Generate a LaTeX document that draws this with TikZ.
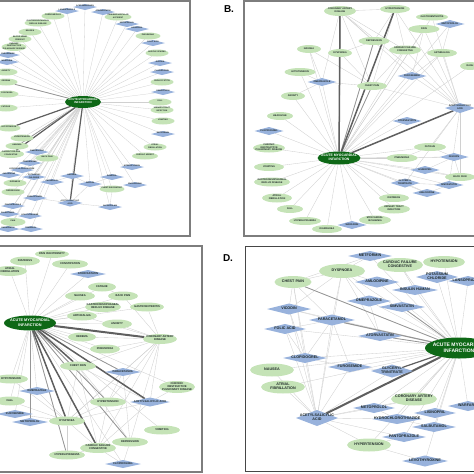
\documentclass[tikz,border=0pt]{standalone}
\usepackage{fontspec}
\setmainfont{Liberation Sans}
\usetikzlibrary{shapes.geometric}
\pgfdeclarelayer{bg}
\pgfsetlayers{bg,main}
\definecolor{symg}{RGB}{197,227,183}
\definecolor{drugb}{RGB}{152,178,220}
\definecolor{hubg}{RGB}{14,104,22}
\definecolor{txt}{RGB}{30,40,40}
\definecolor{frm}{RGB}{125,125,125}
\definecolor{frmd}{RGB}{70,70,70}
\definecolor{lg}{RGB}{208,208,208}
\definecolor{mg}{RGB}{150,150,150}
\definecolor{dg}{RGB}{95,95,95}
\newcommand{\ntxt}[1]{\makebox[0pt]{\smash{\raisebox{-0.33em}{\begin{tabular}[c]{@{}c@{}}#1\end{tabular}}}}}
\tikzset{
  base/.style={inner sep=0pt, outer sep=0pt, text=txt},
  sym/.style={base, ellipse, fill=symg},
  drug/.style={base, diamond, fill=drugb},
  hub/.style={base, ellipse, fill=hubg, text=white},
  le/.style={draw=lg, line width=0.35pt},
  me/.style={draw=mg, line width=0.8pt},
  he/.style={draw=dg, line width=1.5pt},
  frame/.style={draw=frm, line width=1.5pt},
  sz/.style 2 args={minimum width=#1pt, minimum height=#2pt}
}
\begin{document}
\begin{tikzpicture}[x=1pt,y=-1pt]
\useasboundingbox (0,0) rectangle (474,474);
\clip (0,0) rectangle (474,474);

% ---------------- frames and letters
\draw[frame] (-5,1) rectangle (190,236);
\draw[frame] (244,1) rectangle (480,236);
\draw[frame] (-5,246) rectangle (202,472);
\draw[draw=frmd, line width=1pt] (245,246) rectangle (480,471);
\node[font=\fontsize{10}{11}\selectfont\bfseries, text=black] (labB) at (229,9) {B.};
\node[font=\fontsize{10}{11}\selectfont\bfseries, text=black] (labD) at (228,258) {D.};

% ---------------- panel A
\begin{scope}[every node/.append style={font=\fontsize{2}{2.3}\selectfont\bfseries},
  ea/.style={sym,sz={23}{7}}, da/.style={drug,sz={24}{6}}]
\node[hub,sz={36}{12},font=\fontsize{2.8}{3.2}\selectfont\bfseries] (A) at (83,102) {\ntxt{ACUTE MYOCARDIAL\\INFARCTION}};
\node[da] (a1) at (85,7) {\ntxt{ACETAMINOPHEN}};
\node[da] (a2) at (67,11) {\ntxt{LANSOPRAZOLE}};
\node[da] (a3) at (103,12) {\ntxt{ATORVASTATIN}};
\node[ea] (a4) at (53,16) {\ntxt{CARDIOMEGALY}};
\node[ea,sz={27}{7}] (a5) at (118,17) {\ntxt{CEREBROVASCULAR\\ACCIDENT}};
\node[ea,sz={27}{7}] (a6) at (38,23) {\ntxt{GASTROESOPHAGEAL\\REFLUX DISEASE}};
\node[da] (a7) at (127,24) {\ntxt{METOPROLOL}};
\node[da] (a8) at (137,29) {\ntxt{LISINOPRIL}};
\node[ea] (a9) at (30,32) {\ntxt{NAUSEA}};
\node[ea,sz={25}{7}] (a10) at (148,36) {\ntxt{PNEUMONIA}};
\node[ea] (a11) at (20,39) {\ntxt{BLOOD URINE\\PRESENT}};
\node[da] (a12) at (153,43) {\ntxt{FOLIC ACID}};
\node[ea,sz={25}{8}] (a13) at (14,47) {\ntxt{CHRONIC\\OBSTRUCTIVE\\PULMONARY DISEASE}};
\node[ea] (a14) at (157,53) {\ntxt{MUSCLE SPASMS}};
\node[da] (a15) at (8,55) {\ntxt{FUROSEMIDE}};
\node[da] (a16) at (7,62) {\ntxt{WARFARIN}};
\node[da] (a17) at (160,63) {\ntxt{DIGOXIN}};
\node[ea] (a18) at (6,72) {\ntxt{ANXIETY}};
\node[da] (a19) at (162,72) {\ntxt{CLOPIDOGREL}};
\node[ea] (a20) at (6,82) {\ntxt{OEDEMA}};
\node[ea] (a21) at (162,82) {\ntxt{CHOLECYSTITIS}};
\node[da] (a22) at (163,92) {\ntxt{SIMVASTATIN}};
\node[ea] (a23) at (7,94) {\ntxt{DYSPNOEA}};
\node[ea] (a24) at (160,102) {\ntxt{FALL}};
\node[ea] (a25) at (162,110) {\ntxt{URINARY TRACT\\INFECTION}};
\node[ea] (a26) at (6,108) {\ntxt{FATIGUE}};
\node[ea] (a27) at (163,121) {\ntxt{VOMITING}};
\node[da] (a28) at (163,134) {\ntxt{METFORMIN}};
\node[ea] (a29) at (155,147) {\ntxt{ATRIAL\\FIBRILLATION}};
\node[ea,sz={26}{7}] (a30) at (145,156) {\ntxt{CARDIAC ARREST}};
\node[ea] (a31) at (9,128) {\ntxt{HYPOTENSION}};
\node[ea] (a32) at (22,138) {\ntxt{HYPERTENSION}};
\node[ea] (a33) at (17,146) {\ntxt{ANAEMIA}};
\node[ea,sz={26}{8}] (a34) at (11,154) {\ntxt{CARDIAC FAILURE\\CONGESTIVE}};
\node[da] (a35) at (37,152) {\ntxt{OMEPRAZOLE}};
\node[ea] (a36) at (47,158) {\ntxt{BACK PAIN}};
\node[da] (a37) at (30,163) {\ntxt{PREDNISONE}};
\node[da] (a38) at (22,170) {\ntxt{HYDROCHLOROTHIAZIDE}};
\node[da] (a39) at (9,175) {\ntxt{AMLODIPINE}};
\node[da] (a40) at (34,177) {\ntxt{POTASSIUM\\CHLORIDE}};
\node[da] (a41) at (52,182) {\ntxt{CARVEDILOL}};
\node[da] (a42) at (72,176) {\ntxt{HEPARIN}};
\node[ea] (a43) at (15,183) {\ntxt{DIZZINESS}};
\node[ea] (a44) at (13,192) {\ntxt{DEPRESSION}};
\node[da] (a45) at (132,167) {\ntxt{NITROGLYCERIN}};
\node[da] (a46) at (112,177) {\ntxt{RAMIPRIL}};
\node[da] (a47) at (90,184) {\ntxt{INSULIN}};
\node[ea,sz={25}{7}] (a48) at (112,189) {\ntxt{CHEST DISCOMFORT}};
\node[da] (a49) at (135,185) {\ntxt{ENOXAPARIN}};
\node[da] (a50) at (35,198) {\ntxt{PARACETAMOL}};
\node[da,sz={25}{7}] (a51) at (70,203) {\ntxt{ACETYLSALICYLIC\\ACID}};
\node[da] (a52) at (110,207) {\ntxt{ALPRAZOLAM}};
\node[da] (a53) at (13,206) {\ntxt{PANTOPRAZOLE}};
\node[da] (a54) at (8,214) {\ntxt{SALBUTAMOL}};
\node[da] (a55) at (30,216) {\ntxt{LEVOTHYROXINE}};
\node[ea,sz={25}{8}] (a56) at (13,222) {\ntxt{PAIN}};
\node[da] (a57) at (8,229) {\ntxt{GABAPENTIN}};
\node[da] (a58) at (31,229) {\ntxt{TRAMADOL}};
\end{scope}

% ---------------- panel B
\begin{scope}[every node/.append style={font=\fontsize{2.4}{2.8}\selectfont\bfseries},
  eb/.style={sym,sz={28}{8}}, db/.style={drug,sz={29}{8}}]
\node[hub,sz={43}{13},font=\fontsize{3.4}{3.9}\selectfont\bfseries] (B) at (339,158) {\ntxt{ACUTE MYOCARDIAL\\INFARCTION}};
\node[eb,sz={32}{10}] (b1) at (340,11) {\ntxt{CORONARY ARTERY\\DISEASE}};
\node[eb,sz={30}{8}] (b2) at (395,9) {\ntxt{HYPERTENSION}};
\node[eb,sz={32}{7}] (b3) at (432,17) {\ntxt{GASTROENTERITIS}};
\node[db] (b4) at (450,24) {\ntxt{METOPROLOL}};
\node[eb,sz={31}{8}] (b5) at (424,29) {\ntxt{PAIN}};
\node[eb,sz={31}{8}] (b6) at (374,41) {\ntxt{DEPRESSION}};
\node[eb,sz={24}{8}] (b7) at (309,49) {\ntxt{NAUSEA}};
\node[eb,sz={24}{8}] (b8) at (340,53) {\ntxt{DYSPNOEA}};
\node[eb,sz={32}{9}] (b9) at (405,50) {\ntxt{CARDIAC FAILURE\\CONGESTIVE}};
\node[eb,sz={30}{8}] (b10) at (442,53) {\ntxt{ARTHRALGIA}};
\node[eb,sz={20}{8}] (b11) at (470,66) {\ntxt{RASH}};
\node[eb,sz={31}{8}] (b12) at (300,72) {\ntxt{HYPOTENSION}};
\node[db] (b13) at (322,82) {\ntxt{OMEPRAZOLE}};
\node[db] (b14) at (412,76) {\ntxt{FUROSEMIDE}};
\node[eb,sz={30}{8}] (b15) at (372,86) {\ntxt{CHEST PAIN}};
\node[eb,sz={24}{8}] (b16) at (293,96) {\ntxt{ANXIETY}};
\node[db,sz={30}{10}] (b17) at (460,108) {\ntxt{ACETYLSALICYLIC\\ACID}};
\node[eb,sz={26}{8}] (b18) at (280,116) {\ntxt{HEADACHE}};
\node[db] (b19) at (407,121) {\ntxt{ATORVASTATIN}};
\node[db] (b20) at (269,131) {\ntxt{CLOPIDOGREL}};
\node[eb,sz={32}{9}] (b21) at (269,148) {\ntxt{CHRONIC\\OBSTRUCTIVE\\PULMONARY DISEASE}};
\node[eb,sz={32}{8}] (b22) at (430,147) {\ntxt{FATIGUE}};
\node[eb,sz={31}{8}] (b23) at (402,158) {\ntxt{PNEUMONIA}};
\node[db] (b24) at (454,157) {\ntxt{DIGOXIN}};
\node[eb,sz={30}{8}] (b25) at (269,167) {\ntxt{VOMITING}};
\node[db] (b26) at (425,170) {\ntxt{LISINOPRIL}};
\node[eb,sz={36}{9}] (b27) at (272,182) {\ntxt{GASTROOESOPHAGEAL\\REFLUX DISEASE}};
\node[db,sz={29}{9}] (b28) at (405,183) {\ntxt{GLYCERYL\\TRINITRATE}};
\node[eb,sz={30}{8}] (b29) at (460,177) {\ntxt{BACK PAIN}};
\node[db] (b30) at (449,185) {\ntxt{SIMVASTATIN}};
\node[db] (b31) at (427,193) {\ntxt{AMLODIPINE}};
\node[eb,sz={30}{8}] (b32) at (394,198) {\ntxt{DIZZINESS}};
\node[eb,sz={30}{9}] (b33) at (277,198) {\ntxt{ATRIAL\\FIBRILLATION}};
\node[eb,sz={32}{9}] (b34) at (394,209) {\ntxt{URINARY TRACT\\INFECTION}};
\node[eb,sz={26}{8}] (b35) at (290,209) {\ntxt{FALL}};
\node[eb,sz={32}{8}] (b36) at (305,221) {\ntxt{HYPERLIPIDAEMIA}};
\node[eb,sz={32}{9}] (b37) at (375,220) {\ntxt{MYOCARDIAL\\ISCHAEMIA}};
\node[db] (b38) at (352,225) {\ntxt{WARFARIN}};
\node[eb,sz={30}{8}] (b39) at (327,229) {\ntxt{DIARRHOEA}};
\end{scope}

% ---------------- panel C
\begin{scope}[every node/.append style={font=\fontsize{2.7}{3.1}\selectfont\bfseries},
  ec/.style={sym,sz={32}{9}}, dc/.style={drug,sz={36}{8}}]
\node[hub,sz={52}{15},font=\fontsize{3.8}{4.4}\selectfont\bfseries] (C) at (30,323) {\ntxt{ACUTE MYOCARDIAL\\INFARCTION}};
\node[ec,sz={30}{9}] (c1) at (25,261) {\ntxt{DIZZINESS}};
\node[ec,sz={34}{8}] (c2) at (52,254) {\ntxt{PAIN IN EXTREMITY}};
\node[ec,sz={34}{10}] (c3) at (10,271) {\ntxt{ATRIAL\\FIBRILLATION}};
\node[ec,sz={36}{9}] (c4) at (70,264) {\ntxt{CONSTIPATION}};
\node[dc] (c5) at (88,274) {\ntxt{ATORVASTATIN}};
\node[ec,sz={28}{9}] (c6) at (102,287) {\ntxt{FATIGUE}};
\node[ec,sz={30}{9}] (c7) at (80,296) {\ntxt{NAUSEA}};
\node[ec,sz={30}{9}] (c8) at (123,296) {\ntxt{BACK PAIN}};
\node[ec,sz={36}{10}] (c9) at (103,307) {\ntxt{GASTROOESOPHAGEAL\\REFLUX DISEASE}};
\node[ec,sz={34}{9}] (c10) at (147,307) {\ntxt{GASTROENTERITIS}};
\node[ec,sz={30}{9}] (c11) at (82,316) {\ntxt{ARTHRALGIA}};
\node[ec,sz={30}{9}] (c12) at (117,324) {\ntxt{ANXIETY}};
\node[ec,sz={28}{9}] (c13) at (82,337) {\ntxt{OEDEMA}};
\node[ec,sz={34}{10}] (c14) at (160,339) {\ntxt{CORONARY ARTERY\\DISEASE}};
\node[ec,sz={30}{9}] (c15) at (105,349) {\ntxt{PNEUMONIA}};
\node[ec,sz={36}{9}] (c16) at (78,366) {\ntxt{CHEST PAIN}};
\node[dc] (c17) at (123,372) {\ntxt{PARACETAMOL}};
\node[ec,sz={34}{9}] (c18) at (11,379) {\ntxt{HYPOTENSION}};
\node[ec,sz={36}{12}] (c19) at (177,387) {\ntxt{CHRONIC\\OBSTRUCTIVE\\PULMONARY DISEASE}};
\node[dc] (c20) at (37,391) {\ntxt{OMEPRAZOLE}};
\node[ec,sz={30}{9}] (c21) at (10,401) {\ntxt{FALL}};
\node[ec,sz={36}{9}] (c22) at (108,402) {\ntxt{HYPERTENSION}};
\node[dc,sz={40}{9}] (c23) at (150,402) {\ntxt{ACETYLSALICYLIC ACID}};
\node[dc] (c24) at (15,414) {\ntxt{FUROSEMIDE}};
\node[dc] (c25) at (30,422) {\ntxt{METOPROLOL}};
\node[ec,sz={36}{9}] (c26) at (67,421) {\ntxt{DYSPNOEA}};
\node[ec,sz={36}{9}] (c27) at (162,430) {\ntxt{VOMITING}};
\node[ec,sz={36}{9}] (c28) at (130,442) {\ntxt{DEPRESSION}};
\node[ec,sz={36}{10}] (c29) at (98,448) {\ntxt{CARDIAC FAILURE\\CONGESTIVE}};
\node[ec,sz={36}{9}] (c30) at (67,455) {\ntxt{HYPERLIPIDAEMIA}};
\node[dc] (c31) at (123,464) {\ntxt{CLOPIDOGREL}};
\end{scope}

% ---------------- panel D
\begin{scope}[every node/.append style={font=\fontsize{3.7}{4.2}\selectfont\bfseries},
  ed/.style={sym,sz={44}{13}}, dd/.style={drug,sz={44}{10}}]
\node[hub,sz={68}{21},font=\fontsize{5}{5.8}\selectfont\bfseries] (D) at (459,348) {\ntxt{ACUTE MYOCARDIAL\\INFARCTION}};
\node[dd] (d1) at (370,256) {\ntxt{METFORMIN}};
\node[ed,sz={46}{14}] (d2) at (400,265) {\ntxt{CARDIAC FAILURE\\CONGESTIVE}};
\node[ed,sz={42}{12}] (d3) at (444,262) {\ntxt{HYPOTENSION}};
\node[ed,sz={46}{14}] (d4) at (342,271) {\ntxt{DYSPNOEA}};
\node[ed,sz={37}{12}] (d5) at (293,282) {\ntxt{CHEST PAIN}};
\node[dd,sz={44}{11}] (d6) at (377,282) {\ntxt{AMLODIPINE}};
\node[dd,sz={42}{12}] (d7) at (437,277) {\ntxt{POTASSIUM\\CHLORIDE}};
\node[dd,sz={40}{10}] (d8) at (468,281) {\ntxt{LANSOPRAZOLE}};
\node[dd,sz={46}{10}] (d9) at (415,290) {\ntxt{INSULIN HUMAN}};
\node[dd,sz={44}{11}] (d10) at (369,301) {\ntxt{OMEPRAZOLE}};
\node[dd,sz={46}{10}] (d11) at (402,307) {\ntxt{SIMVASTATIN}};
\node[dd,sz={44}{11}] (d12) at (289,309) {\ntxt{VICODIN}};
\node[dd,sz={46}{11}] (d13) at (332,320) {\ntxt{PARACETAMOL}};
\node[dd,sz={42}{10}] (d14) at (285,329) {\ntxt{FOLIC ACID}};
\node[dd] (d15) at (380,336) {\ntxt{ATORVASTATIN}};
\node[dd] (d16) at (305,358) {\ntxt{CLOPIDOGREL}};
\node[ed] (d17) at (272,370) {\ntxt{NAUSEA}};
\node[dd] (d18) at (350,367) {\ntxt{FUROSEMIDE}};
\node[dd,sz={42}{13}] (d19) at (392,371) {\ntxt{GLYCERYL\\TRINITRATE}};
\node[ed] (d20) at (283,387) {\ntxt{ATRIAL\\FIBRILLATION}};
\node[ed,sz={46}{13}] (d21) at (414,399) {\ntxt{CORONARY ARTERY\\DISEASE}};
\node[dd,sz={42}{10}] (d22) at (374,408) {\ntxt{METOPROLOL}};
\node[dd,sz={42}{16}] (d23) at (317,418) {\ntxt{ACETYLSALICYLIC\\ACID}};
\node[dd,sz={50}{10}] (d24) at (397,419) {\ntxt{HYDROCHLOROTHIAZIDE}};
\node[dd,sz={42}{10}] (d25) at (435,413) {\ntxt{LISINOPRIL}};
\node[dd,sz={40}{10}] (d26) at (468,406) {\ntxt{WARFARIN}};
\node[dd] (d27) at (434,427) {\ntxt{SALBUTAMOL}};
\node[dd] (d28) at (404,437) {\ntxt{PANTOPRAZOLE}};
\node[ed] (d29) at (369,445) {\ntxt{HYPERTENSION}};
\node[dd,sz={46}{11}] (d30) at (425,461) {\ntxt{LEVOTHYROXINE}};
\end{scope}

% ---------------- edges
\begin{pgfonlayer}{bg}
\clip (0,0) rectangle (474,474);
% A
\foreach \i in {1,...,58} \draw[le, line width=0.3pt] (A) -- (a\i);
\foreach \p/\q in {a51/a41,a51/a47,a51/a52,a51/a42,a47/a48,a42/a47,a46/a47,a51/a50,a41/a42,a48/a52}
  \draw[le, line width=0.3pt] (\p) -- (\q);
\draw[me] (A) -- (a20);
\draw[me] (A) -- (a33);
\draw[he, line width=1.2pt] (A) -- (a31);
\draw[he, line width=1.2pt] (A) -- (a34);
\draw[he, line width=1.2pt] (A) -- (a51);
% B
\foreach \i in {1,...,39} \draw[le] (B) -- (b\i);
\foreach \p/\q in {b1/b2,b1/b6,b1/b9,b1/b15,b1/b8,b1/b14,b1/b17,b2/b15,b2/b9,b2/b6,b9/b15,b9/b17,b10/b17,b15/b17,b14/b17,b22/b17,b26/b29,b23/b24,b28/b30,b31/b30,b29/b17,b5/b17,b10/b14,b7/b15,b12/b13,b6/b8,b13/b15,b16/b13,b8/b15,b22/b24,b24/b29,b26/b24,b28/b17,b30/b17,b31/b28,b7/b13,b1/b13,b2/b17,b5/b14,b3/b17,b4/b10,b23/b22}
  \draw[le] (\p) -- (\q);
\draw[me] (B) -- (b15);
\draw[me] (B) -- (b8);
\draw[me] (B) -- (b6);
\draw[he] (B) -- (b1);
\draw[he] (B) -- (b2);
\draw[he] (B) -- (b17);
% C
\foreach \i in {1,...,31} \draw[le] (C) -- (c\i);
\foreach \p/\q in {c14/c16,c14/c17,c14/c22,c14/c23,c14/c28,c14/c29,c14/c26,c23/c16,c23/c26,c23/c29,c22/c26,c16/c29,c17/c28,c26/c29,c29/c31,c28/c31,c19/c23,c16/c22,c16/c28,c17/c22,c17/c26,c13/c14,c15/c14,c12/c14,c10/c14,c8/c14,c26/c30,c29/c30,c22/c29,c21/c26,c20/c26,c24/c26,c18/c26,c16/c26,c6/c8,c11/c14}
  \draw[le] (\p) -- (\q);
\draw[me] (C) -- (c22);
\draw[me] (C) -- (c30);
\draw[me] (C) -- (c25);
\draw[me] (C) -- (c17);
\draw[me] (C) -- (c28);
\draw[he] (C) -- (c16);
\draw[he] (C) -- (c26);
\draw[he] (C) -- (c29);
\draw[he] (C) -- (c23);
\draw[he, line width=2pt] (C) -- (c14);
% D
\foreach \i in {1,...,30} \draw[le] (D) -- (d\i);
\foreach \p/\q in {d23/d12,d23/d14,d23/d16,d23/d13,d23/d5,d23/d18,d23/d22,d23/d24,d23/d28,d23/d29,d23/d21,d23/d4,d23/d19,d13/d5,d13/d12,d13/d4,d16/d13,d12/d16,d4/d10,d18/d19,d22/d24,d21/d22,d29/d28,d24/d27,d30/d29,d5/d4,d5/d16,d5/d12,d14/d16,d20/d23,d17/d23,d1/d4,d6/d4,d2/d9,d10/d15,d18/d13,d16/d18,d5/d1,d4/d15,d12/d4,d14/d13}
  \draw[le] (\p) -- (\q);
\draw[me] (D) -- (d5);
\draw[me] (D) -- (d11);
\draw[me] (D) -- (d15);
\draw[me, line width=1.1pt] (D) -- (d13);
\draw[he, line width=1.2pt] (D) -- (d19);
\draw[he, line width=2pt] (D) -- (d23);
\end{pgfonlayer}
\end{tikzpicture}
\end{document}
